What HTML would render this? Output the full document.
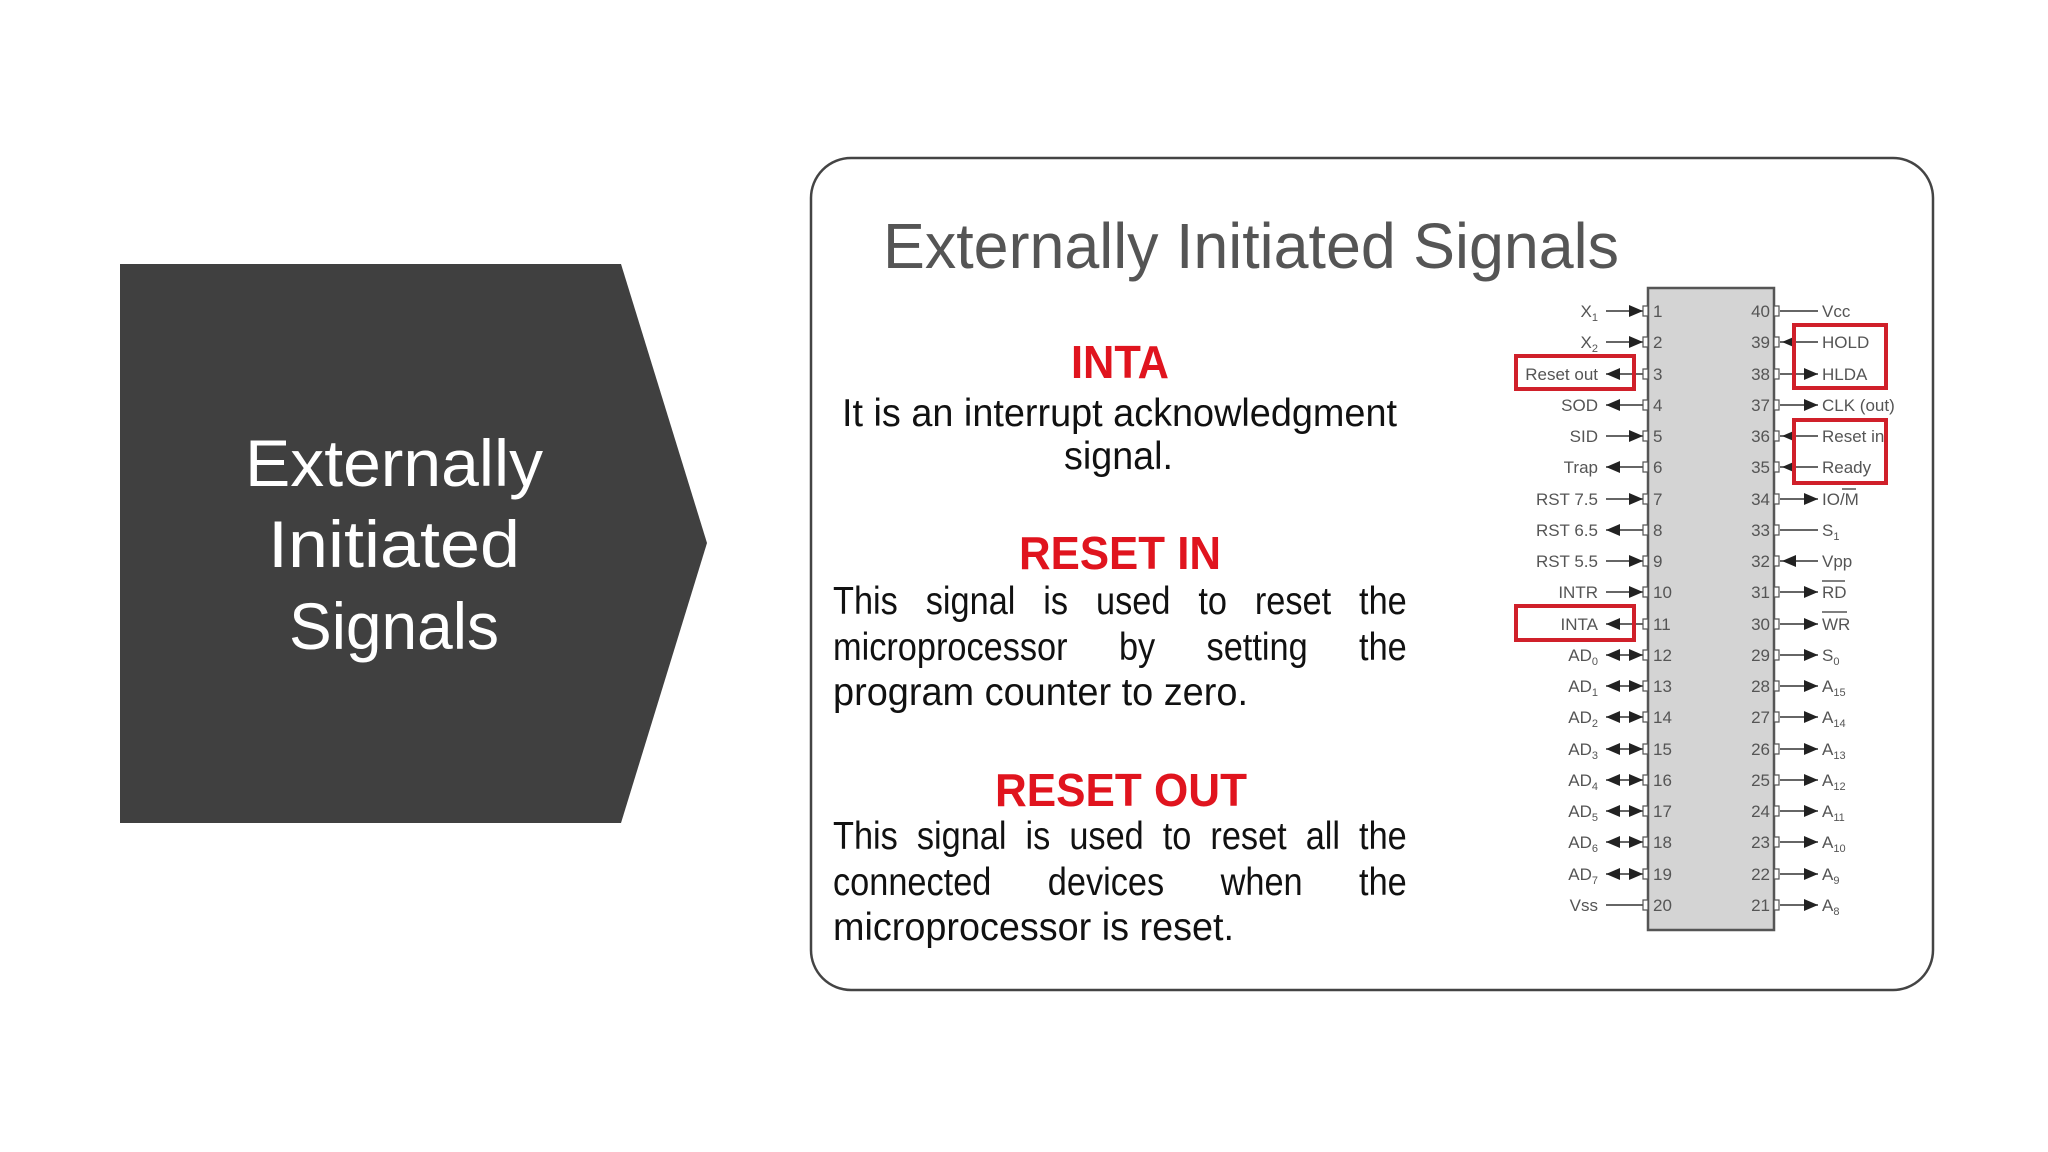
<!DOCTYPE html>
<html><head><meta charset="utf-8"><style>
html,body{margin:0;padding:0;background:#fff;}
svg{display:block;}
.j{position:absolute;left:833px;width:652px;font-family:"Liberation Sans",Arial,sans-serif;font-size:39px;line-height:39px;color:#111;text-align:justify;text-align-last:justify;transform:scaleX(0.88);transform-origin:0 0;white-space:nowrap;}
</style></head><body>
<div style="position:relative;width:2048px;height:1152px;overflow:hidden">
<svg width="2048" height="1152" viewBox="0 0 2048 1152" xmlns="http://www.w3.org/2000/svg" font-family="Liberation Sans, Arial, sans-serif">
<rect width="2048" height="1152" fill="#fff"/>
<polygon points="120,264 621,264 707,543 621,823 120,823" fill="#404040"/>
<g fill="#fff" font-size="66" text-anchor="middle">
<text x="394" y="486" textLength="298" lengthAdjust="spacingAndGlyphs">Externally</text>
<text x="394" y="567" textLength="252" lengthAdjust="spacingAndGlyphs">Initiated</text>
<text x="394" y="649" textLength="210" lengthAdjust="spacingAndGlyphs">Signals</text>
</g>
<rect x="811" y="158" width="1122" height="832" rx="40" fill="#fff" stroke="#444" stroke-width="2.5"/>
<text x="883" y="268" font-size="64" fill="#555" textLength="736" lengthAdjust="spacingAndGlyphs">Externally Initiated Signals</text>
<g fill="#e0141e" font-weight="bold" font-size="46">
<text x="1071" y="378" textLength="98" lengthAdjust="spacingAndGlyphs">INTA</text>
<text x="1019" y="569" textLength="202" lengthAdjust="spacingAndGlyphs">RESET IN</text>
<text x="995" y="806" textLength="252" lengthAdjust="spacingAndGlyphs">RESET OUT</text>
</g>
<g fill="#111" font-size="39">
<text x="842" y="426" textLength="555" lengthAdjust="spacingAndGlyphs">It is an interrupt acknowledgment</text>
<text x="1064" y="469" textLength="109" lengthAdjust="spacingAndGlyphs">signal.</text>
<text x="833" y="705" textLength="415" lengthAdjust="spacingAndGlyphs">program counter to zero.</text>
<text x="833" y="940" textLength="401" lengthAdjust="spacingAndGlyphs">microprocessor is reset.</text>
</g>
<rect x="1648" y="288" width="126" height="642" fill="#d4d4d4" stroke="#555" stroke-width="2.5"/>
<g stroke="#333" stroke-width="1.5" fill="none">
<path d="M1606 311H1643M1606 342H1643M1606 374H1643M1606 405H1643M1606 436H1643M1606 467H1643M1606 499H1643M1606 530H1643M1606 561H1643M1606 592H1643M1606 624H1643M1606 655H1643M1606 686H1643M1606 717H1643M1606 749H1643M1606 780H1643M1606 811H1643M1606 842H1643M1606 874H1643M1606 905H1643"/>
<path d="M1780 311H1818M1780 342H1818M1780 374H1818M1780 405H1818M1780 436H1818M1780 467H1818M1780 499H1818M1780 530H1818M1780 561H1818M1780 592H1818M1780 624H1818M1780 655H1818M1780 686H1818M1780 717H1818M1780 749H1818M1780 780H1818M1780 811H1818M1780 842H1818M1780 874H1818M1780 905H1818"/>
</g>
<g fill="#fff" stroke="#555" stroke-width="1.2">
<path d="M1643 306h5v10h-5zM1643 337h5v10h-5zM1643 369h5v10h-5zM1643 400h5v10h-5zM1643 431h5v10h-5zM1643 462h5v10h-5zM1643 494h5v10h-5zM1643 525h5v10h-5zM1643 556h5v10h-5zM1643 587h5v10h-5zM1643 619h5v10h-5zM1643 650h5v10h-5zM1643 681h5v10h-5zM1643 712h5v10h-5zM1643 744h5v10h-5zM1643 775h5v10h-5zM1643 806h5v10h-5zM1643 837h5v10h-5zM1643 869h5v10h-5zM1643 900h5v10h-5z"/>
<path d="M1774 306h5v10h-5zM1774 337h5v10h-5zM1774 369h5v10h-5zM1774 400h5v10h-5zM1774 431h5v10h-5zM1774 462h5v10h-5zM1774 494h5v10h-5zM1774 525h5v10h-5zM1774 556h5v10h-5zM1774 587h5v10h-5zM1774 619h5v10h-5zM1774 650h5v10h-5zM1774 681h5v10h-5zM1774 712h5v10h-5zM1774 744h5v10h-5zM1774 775h5v10h-5zM1774 806h5v10h-5zM1774 837h5v10h-5zM1774 869h5v10h-5zM1774 900h5v10h-5z"/>
</g>
<g fill="#222">
<path d="M1643 311l-14-6v12zM1643 342l-14-6v12zM1643 436l-14-6v12zM1643 499l-14-6v12zM1643 561l-14-6v12zM1643 592l-14-6v12zM1643 655l-14-6v12zM1643 686l-14-6v12zM1643 717l-14-6v12zM1643 749l-14-6v12zM1643 780l-14-6v12zM1643 811l-14-6v12zM1643 842l-14-6v12zM1643 874l-14-6v12z"/>
<path d="M1606 374l14-6v12zM1606 405l14-6v12zM1606 467l14-6v12zM1606 530l14-6v12zM1606 624l14-6v12zM1606 655l14-6v12zM1606 686l14-6v12zM1606 717l14-6v12zM1606 749l14-6v12zM1606 780l14-6v12zM1606 811l14-6v12zM1606 842l14-6v12zM1606 874l14-6v12z"/>
<path d="M1818 374l-14-6v12zM1818 405l-14-6v12zM1818 499l-14-6v12zM1818 592l-14-6v12zM1818 624l-14-6v12zM1818 655l-14-6v12zM1818 686l-14-6v12zM1818 717l-14-6v12zM1818 749l-14-6v12zM1818 780l-14-6v12zM1818 811l-14-6v12zM1818 842l-14-6v12zM1818 874l-14-6v12zM1818 905l-14-6v12z"/>
<path d="M1782 342l14-6v12zM1782 436l14-6v12zM1782 467l14-6v12zM1782 561l14-6v12z"/>
</g>
<g fill="#555" font-size="17">
<text x="1653" y="317">1</text><text x="1653" y="348">2</text><text x="1653" y="380">3</text><text x="1653" y="411">4</text><text x="1653" y="442">5</text><text x="1653" y="473">6</text><text x="1653" y="505">7</text><text x="1653" y="536">8</text><text x="1653" y="567">9</text><text x="1653" y="598">10</text><text x="1653" y="630">11</text><text x="1653" y="661">12</text><text x="1653" y="692">13</text><text x="1653" y="723">14</text><text x="1653" y="755">15</text><text x="1653" y="786">16</text><text x="1653" y="817">17</text><text x="1653" y="848">18</text><text x="1653" y="880">19</text><text x="1653" y="911">20</text>
</g>
<g fill="#555" font-size="17" text-anchor="end">
<text x="1770" y="317">40</text><text x="1770" y="348">39</text><text x="1770" y="380">38</text><text x="1770" y="411">37</text><text x="1770" y="442">36</text><text x="1770" y="473">35</text><text x="1770" y="505">34</text><text x="1770" y="536">33</text><text x="1770" y="567">32</text><text x="1770" y="598">31</text><text x="1770" y="630">30</text><text x="1770" y="661">29</text><text x="1770" y="692">28</text><text x="1770" y="723">27</text><text x="1770" y="755">26</text><text x="1770" y="786">25</text><text x="1770" y="817">24</text><text x="1770" y="848">23</text><text x="1770" y="880">22</text><text x="1770" y="911">21</text>
</g>
<g fill="#555" font-size="17" text-anchor="end">
<text x="1598" y="317">X<tspan font-size="11" dy="4">1</tspan></text>
<text x="1598" y="348">X<tspan font-size="11" dy="4">2</tspan></text>
<text x="1598" y="380">Reset out</text>
<text x="1598" y="411">SOD</text>
<text x="1598" y="442">SID</text>
<text x="1598" y="473">Trap</text>
<text x="1598" y="505">RST 7.5</text>
<text x="1598" y="536">RST 6.5</text>
<text x="1598" y="567">RST 5.5</text>
<text x="1598" y="598">INTR</text>
<text x="1598" y="630">INTA</text>
<text x="1598" y="661">AD<tspan font-size="11" dy="4">0</tspan></text>
<text x="1598" y="692">AD<tspan font-size="11" dy="4">1</tspan></text>
<text x="1598" y="723">AD<tspan font-size="11" dy="4">2</tspan></text>
<text x="1598" y="755">AD<tspan font-size="11" dy="4">3</tspan></text>
<text x="1598" y="786">AD<tspan font-size="11" dy="4">4</tspan></text>
<text x="1598" y="817">AD<tspan font-size="11" dy="4">5</tspan></text>
<text x="1598" y="848">AD<tspan font-size="11" dy="4">6</tspan></text>
<text x="1598" y="880">AD<tspan font-size="11" dy="4">7</tspan></text>
<text x="1598" y="911">Vss</text>
</g>
<g fill="#555" font-size="17">
<text x="1822" y="317">Vcc</text>
<text x="1822" y="348">HOLD</text>
<text x="1822" y="380">HLDA</text>
<text x="1822" y="411">CLK (out)</text>
<text x="1822" y="442">Reset in</text>
<text x="1822" y="473">Ready</text>
<text x="1822" y="505">IO/M</text>
<text x="1822" y="536">S<tspan font-size="11" dy="4">1</tspan></text>
<text x="1822" y="567">Vpp</text>
<text x="1822" y="598">RD</text>
<text x="1822" y="630">WR</text>
<text x="1822" y="661">S<tspan font-size="11" dy="4">0</tspan></text>
<text x="1822" y="692">A<tspan font-size="11" dy="4">15</tspan></text>
<text x="1822" y="723">A<tspan font-size="11" dy="4">14</tspan></text>
<text x="1822" y="755">A<tspan font-size="11" dy="4">13</tspan></text>
<text x="1822" y="786">A<tspan font-size="11" dy="4">12</tspan></text>
<text x="1822" y="817">A<tspan font-size="11" dy="4">11</tspan></text>
<text x="1822" y="848">A<tspan font-size="11" dy="4">10</tspan></text>
<text x="1822" y="880">A<tspan font-size="11" dy="4">9</tspan></text>
<text x="1822" y="911">A<tspan font-size="11" dy="4">8</tspan></text>
</g>
<g stroke="#555" stroke-width="1.5">
<path d="M1842 489H1856M1822 581H1845M1822 612H1847"/>
</g>
<g fill="none" stroke="#d0202a" stroke-width="4">
<rect x="1516" y="356" width="118" height="33"/>
<rect x="1516" y="606" width="118" height="34"/>
<rect x="1794" y="325" width="92" height="63"/>
<rect x="1794" y="420" width="92" height="63"/>
</g>
</svg>
<div class="j" style="top:582px">This signal is used to reset the</div>
<div class="j" style="top:628px">microprocessor by setting the</div>
<div class="j" style="top:817px">This signal is used to reset all the</div>
<div class="j" style="top:863px">connected devices when the</div>
</div>
</body></html>
